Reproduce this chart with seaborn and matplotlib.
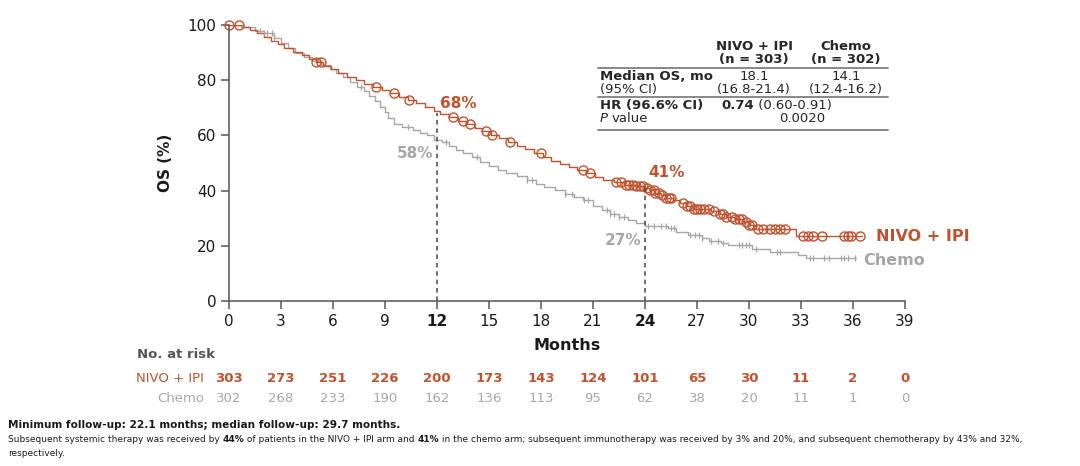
import numpy as np
import matplotlib.pyplot as plt
import seaborn as sns

sns.set_theme(style="white")
plt.rcParams["font.family"] = ["DejaVu Sans"]

COR_NIVO = "#C0522D"
COR_CHEMO = "#A6A6A6"
COR_EIXO = "#555555"
COR_TEXTO = "#1A1A1A"

# curvas de Kaplan-Meier (meses, OS %)
tempo_nivo = [0, 0.8, 1.2, 1.6, 2.0, 2.4, 2.8, 3.2, 3.7, 4.2, 4.6, 5.0, 5.4, 5.9, 6.3, 6.8,
              7.3, 7.8, 8.3, 8.8, 9.3, 9.8, 10.3, 10.8, 11.3, 11.8, 12.2, 12.7, 13.2, 13.7,
              14.2, 14.6, 15.1, 15.6, 16.1, 16.6, 17.1, 17.6, 18.1, 18.6, 19.1, 19.6, 20.1,
              20.6, 21.1, 21.6, 22.2, 22.8, 23.5, 24.0, 24.3, 24.6, 24.9, 25.2, 25.6, 26.0,
              26.4, 26.8, 27.8, 28.3, 28.7, 29.2, 29.7, 30.0, 30.4, 32.7, 36.5]
os_nivo = [100, 99.3, 98.3, 97, 95.7, 94.3, 93, 91.7, 90.3, 89, 87.7, 86.6, 85.3, 84, 82.6, 81.3,
           80, 78.8, 77.7, 76.4, 75.3, 74, 72.8, 71.6, 70.3, 69, 67.8, 66.7, 65.3, 64.1,
           62.8, 61.5, 60.2, 58.9, 57.6, 56.3, 55, 53.6, 52.2, 50.8, 49.6, 48.4, 47.3,
           46.2, 45.1, 44, 43, 42.2, 41.6, 41.0, 40.2, 39.2, 38.3, 37.5, 36.6, 35.5,
           34.4, 33.4, 32.6, 31.6, 30.6, 29.6, 28.8, 27.4, 26.0, 23.5, 23.5]
censura_nivo = [0, 0.55, 5.0, 5.3, 8.5, 9.5, 10.4, 12.9, 13.5, 13.9, 14.8, 15.2, 16.2, 18.0,
                20.4, 20.8, 22.3, 22.6, 22.9, 23.1, 23.3, 23.5, 23.7, 23.9, 24.1, 24.3, 24.5,
                24.6, 24.8, 25.0, 25.2, 25.4, 25.5, 26.2, 26.4, 26.6, 26.8, 27.0, 27.2, 27.4,
                27.7, 28.0, 28.3, 28.5, 28.7, 29.0, 29.2, 29.4, 29.6, 29.8, 30.0, 30.2, 30.5,
                30.8, 31.2, 31.5, 31.8, 32.1, 33.1, 33.4, 33.7, 34.2, 35.5, 35.7, 35.9, 36.4]

tempo_chemo = [0, 0.7, 1.5, 2.0, 2.6, 3.0, 3.4, 3.8, 4.3, 4.8, 5.3, 5.8, 6.2, 6.6, 7.0, 7.4,
               7.8, 8.1, 8.4, 8.7, 9.0, 9.2, 9.5, 10.0, 10.6, 11.0, 11.4, 11.8, 12.3, 12.7,
               13.1, 13.5, 14.0, 14.5, 15.0, 15.5, 16.0, 16.6, 17.2, 17.7, 18.2, 18.8, 19.4,
               19.9, 20.4, 21.0, 21.5, 22.0, 22.5, 23.0, 23.5, 24.0, 25.3, 25.8, 26.5, 27.3,
               27.7, 28.4, 28.8, 30.2, 31.2, 32.8, 33.3, 36.2]
os_chemo = [100, 99.3, 98, 97, 95.2, 93.5, 91.8, 90, 88.5, 87, 85.6, 84, 82.5, 81, 79.3, 77.6,
            76, 74.3, 72.3, 70.3, 68.3, 66.3, 64, 63, 62, 61, 60, 58.4, 57.5, 56,
            54.8, 53.6, 52, 50.5, 49, 47.5, 46.5, 45.2, 43.8, 42.5, 41.3, 40.2, 38.8,
            37.6, 36.5, 34.5, 32.8, 31.5, 30.5, 29.3, 28.2, 27.3, 26.3, 25, 24, 22.7,
            21.8, 21.0, 20.2, 18.8, 17.6, 16.5, 15.5, 15.5]
censura_chemo = [1.8, 2.0, 2.2, 2.5, 2.6, 7.6, 10.3, 12.5, 14.3, 17.2, 17.5, 19.4, 19.8, 20.5,
                 20.7, 21.8, 22.0, 22.2, 22.5, 22.8, 24.2, 24.5, 24.9, 25.2, 25.5, 25.7, 26.6,
                 26.9, 27.1, 27.3, 27.8, 28.2, 28.5, 29.4, 29.6, 29.8, 30.0, 30.4, 31.6, 31.8,
                 33.5, 33.7, 34.3, 34.6, 35.3, 35.5, 35.7, 36.1]

meses_risco = [0, 3, 6, 9, 12, 15, 18, 21, 24, 27, 30, 33, 36, 39]
risco_nivo = [303, 273, 251, 226, 200, 173, 143, 124, 101, 65, 30, 11, 2, 0]
risco_chemo = [302, 268, 233, 190, 162, 136, 113, 95, 62, 38, 20, 11, 1, 0]

marcos = [12, 24]
os_marco_nivo = [68, 41]
os_marco_chemo = [58, 27]


def valor_degrau(tempos, valores, t):
    idx = np.searchsorted(tempos, t, side="right") - 1
    return np.asarray(valores)[idx]


def px(x, y):
    return x / 1080, 1 - y / 466


fig = plt.figure(figsize=(10.8, 4.66), dpi=100)
ax = fig.add_axes([229 / 1080, 1 - 301 / 466, 676 / 1080, 276 / 466])

sns.lineplot(x=tempo_chemo, y=os_chemo, ax=ax, color=COR_CHEMO, lw=1.0,
             drawstyle="steps-post", estimator=None)
sns.lineplot(x=tempo_nivo, y=os_nivo, ax=ax, color=COR_NIVO, lw=1.0,
             drawstyle="steps-post", estimator=None)

ax.plot(censura_chemo, valor_degrau(tempo_chemo, os_chemo, censura_chemo), ls="none",
        marker="|", ms=5, mew=0.9, color=COR_CHEMO, clip_on=False)
ax.plot(censura_nivo, valor_degrau(tempo_nivo, os_nivo, censura_nivo), ls="none",
        marker="o", ms=6.5, mfc="none", mew=1.0, color=COR_NIVO, clip_on=False)

# linhas de referência em 12 e 24 meses
for m, v in zip(marcos, os_marco_nivo):
    ax.plot([m, m], [0, v], ls=(0, (3, 2.5)), color="#444444", lw=1.1)
ax.text(12.2, 71.5, f"{os_marco_nivo[0]}%", color=COR_NIVO, fontsize=11, fontweight="bold",
        ha="left", va="center")
ax.text(11.8, 53.5, f"{os_marco_chemo[0]}%", color=COR_CHEMO, fontsize=11, fontweight="bold",
        ha="right", va="center")
ax.text(24.2, 46.5, f"{os_marco_nivo[1]}%", color=COR_NIVO, fontsize=11, fontweight="bold",
        ha="left", va="center")
ax.text(23.8, 22.0, f"{os_marco_chemo[1]}%", color=COR_CHEMO, fontsize=11, fontweight="bold",
        ha="right", va="center")

ax.text(37.3, 23.2, "NIVO + IPI", color=COR_NIVO, fontsize=11.5, fontweight="bold",
        ha="left", va="center")
ax.text(36.6, 14.8, "Chemo", color=COR_CHEMO, fontsize=11.5, fontweight="bold",
        ha="left", va="center")

ax.set_xlim(0, 39)
ax.set_ylim(0, 100)
ax.set_xticks(meses_risco)
ax.set_yticks(range(0, 101, 20))
ax.tick_params(bottom=True, left=True, direction="out", length=6, width=1.1,
               color=COR_EIXO, labelsize=11, labelcolor=COR_TEXTO, pad=3)
for lab in ax.get_xticklabels():
    if lab.get_text() in ("12", "24"):
        lab.set_fontweight("bold")
sns.despine(ax=ax)
for lado in ("left", "bottom"):
    ax.spines[lado].set_color(COR_EIXO)
    ax.spines[lado].set_linewidth(1.1)
ax.set_xlabel("")
ax.set_ylabel("")
ax.patch.set_alpha(0)

fig.text(*px(165, 163), "OS (%)", rotation=90, ha="center", va="center",
         fontsize=11, fontweight="bold", color=COR_TEXTO)
fig.text(*px(567, 346), "Months", ha="center", va="center",
         fontsize=11.5, fontweight="bold", color=COR_TEXTO)

# tabela de pacientes em risco
trans = ax.get_xaxis_transform()
y_nivo = -(378 - 301) / 276
y_chemo = -(398 - 301) / 276
fig.text(*px(137, 354), "No. at risk", ha="left", va="center", fontsize=9.5,
         fontweight="bold", color="#555555")
fig.text(*px(204, 378), "NIVO + IPI", ha="right", va="center", fontsize=9.5, color=COR_NIVO)
fig.text(*px(204, 398), "Chemo", ha="right", va="center", fontsize=9.5, color=COR_CHEMO)
for m, n1, n2 in zip(meses_risco, risco_nivo, risco_chemo):
    ax.text(m, y_nivo, str(n1), transform=trans, ha="center", va="center", fontsize=9.5,
            fontweight="bold", color=COR_NIVO, clip_on=False)
    ax.text(m, y_chemo, str(n2), transform=trans, ha="center", va="center", fontsize=9.5,
            color=COR_CHEMO, clip_on=False)

# tabela de resumo
tam = 9.5
fig.text(*px(754, 47), "NIVO + IPI", ha="center", va="center", fontsize=tam, fontweight="bold")
fig.text(*px(754, 59), "(n = 303)", ha="center", va="center", fontsize=tam, fontweight="bold")
fig.text(*px(846, 47), "Chemo", ha="center", va="center", fontsize=tam, fontweight="bold")
fig.text(*px(846, 59), "(n = 302)", ha="center", va="center", fontsize=tam, fontweight="bold")
fig.text(*px(600, 77), "Median OS, mo", ha="left", va="center", fontsize=tam, fontweight="bold")
fig.text(*px(600, 89), "(95% CI)", ha="left", va="center", fontsize=tam)
fig.text(*px(754, 77), "18.1", ha="center", va="center", fontsize=tam)
fig.text(*px(754, 89), "(16.8-21.4)", ha="center", va="center", fontsize=tam)
fig.text(*px(846, 77), "14.1", ha="center", va="center", fontsize=tam)
fig.text(*px(846, 89), "(12.4-16.2)", ha="center", va="center", fontsize=tam)
fig.text(*px(600, 106), "HR (96.6% CI)", ha="left", va="center", fontsize=tam, fontweight="bold")
fig.text(*px(754, 106), "0.74", ha="right", va="center", fontsize=tam, fontweight="bold")
fig.text(*px(754, 106), " (0.60-0.91)", ha="left", va="center", fontsize=tam)
fig.text(*px(600, 119), "P", ha="left", va="center", fontsize=tam, style="italic")
fig.text(*px(612, 119), "value", ha="left", va="center", fontsize=tam)
fig.text(*px(802, 119), "0.0020", ha="center", va="center", fontsize=tam)
for yl in (68, 97, 130):
    x0, y0 = px(598, yl)
    x1, _ = px(888, yl)
    fig.add_artist(plt.Line2D([x0, x1], [y0, y0], color="#7F7F7F", lw=1.3))

# notas de rodapé
fig.text(*px(8, 425), "Minimum follow-up: 22.1 months; median follow-up: 29.7 months.",
         ha="left", va="center", fontsize=7.6, color=COR_TEXTO, fontweight="semibold")
partes = [("Subsequent systemic therapy was received by ", "normal"), ("44%", "bold"),
          (" of patients in the NIVO + IPI arm and ", "normal"), ("41%", "bold"),
          (" in the chemo arm; subsequent immunotherapy was received by 3% and 20%, "
           "and subsequent chemotherapy by 43% and 32%,", "normal")]
anterior = fig.text(*px(8, 444), partes[0][0], ha="left", va="bottom", fontsize=6.5,
                    color=COR_TEXTO)
for texto, peso in partes[1:]:
    anterior = ax.annotate(texto, xy=(1, 0), xycoords=anterior, ha="left", va="bottom",
                           fontsize=6.5, color=COR_TEXTO, fontweight=peso,
                           annotation_clip=False)
fig.text(*px(8, 453), "respectively.", ha="left", va="center", fontsize=6.5, color=COR_TEXTO)

fig.savefig("out.png", dpi=100)
plt.close("all")
